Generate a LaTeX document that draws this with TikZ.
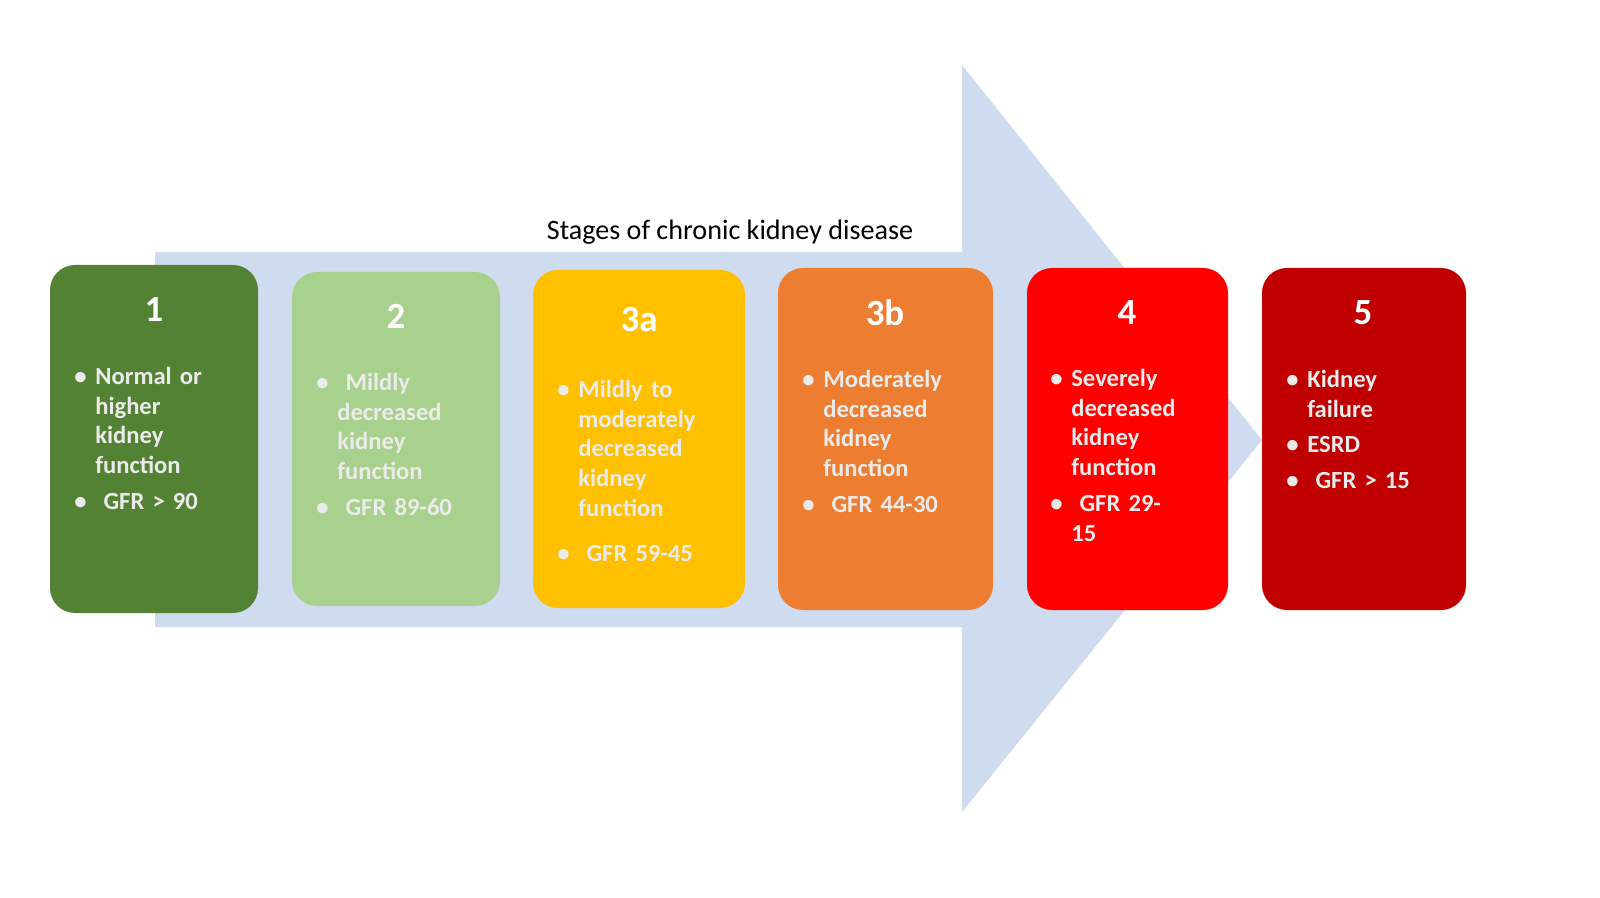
\documentclass[tikz,border=0pt]{standalone}
\usepackage{fontspec}
\setmainfont{Carlito}
\usepackage{enumitem}
\usetikzlibrary{positioning}
\definecolor{arrowblue}{RGB}{207,219,238}
\definecolor{stageA}{RGB}{84,130,53}
\definecolor{stageB}{RGB}{169,209,142}
\definecolor{stageC}{RGB}{255,192,0}
\definecolor{stageD}{RGB}{237,125,49}
\definecolor{stageE}{RGB}{255,0,0}
\definecolor{stageF}{RGB}{192,0,0}
\tikzset{
  stage/.style={draw=none, rounded corners=0.5cm, inner sep=0pt},
  num/.style={text=white, font=\fontsize{21}{24}\selectfont\bfseries},
  items/.style={text=white!92!black, text width=2.9cm, align=left, inner sep=0pt,
    font=\fontsize{14}{17}\selectfont\bfseries}
}
\setlist[itemize]{leftmargin=0.5cm, label=\textbullet, itemsep=0.12cm, topsep=0pt, parsep=0pt}
\begin{document}
\begin{tikzpicture}[x=0.02cm, y=-0.02cm]
    \useasboundingbox (0,0) rectangle (1600,898);
    % arrow
    \fill[arrowblue] (155,252) -- (962,252) -- (962,65) -- (1262,440) -- (962,812) -- (962,627) -- (155,627) -- cycle;
    \node (title) at (730,232) {\fontsize{16}{18}\selectfont Stages of chronic kidney disease};
    % boxes
    \fill[stage, stageA] (50,265) rectangle (258,613);
    \fill[stage, stageB] (292,272) rectangle (500,606);
    \fill[stage, stageC] (533,270) rectangle (745,608);
    \fill[stage, stageD] (778,268) rectangle (993,610);
    \fill[stage, stageE] (1027,268) rectangle (1228,610);
    \fill[stage, stageF] (1262,268) rectangle (1466,610);
    % numbers
    \node[num] (n1) at (154,310) {1};
    \node[num] (n2) at (396,316) {2};
    \node[num] (n3) at (639,320) {3a};
    \node[num] (n4) at (885,313) {3b};
    \node[num] (n5) at (1127,313) {4};
    \node[num] (n6) at (1363,313) {5};
    % bullet lists
    \node[items, anchor=north west] (t1) at (70,354) {\begin{itemize}\item Normal or higher kidney function \item \ GFR > 90\end{itemize}};
    \node[items, anchor=north west] (t2) at (312,360) {\begin{itemize}\item \ Mildly decreased kidney function \item \ GFR 89-60\end{itemize}};
    \node[items, anchor=north west, text width=3.3cm] (t3) at (553,367) {\begin{itemize}[itemsep=0.3cm]\item Mildly to moderately decreased kidney function \item \ GFR 59-45\end{itemize}};
    \node[items, anchor=north west, text width=3.4cm] (t4) at (798,357) {\begin{itemize}\item Moderately decreased kidney function \item \ GFR 44-30\end{itemize}};
    \node[items, anchor=north west, text width=3.0cm] (t5) at (1046,356) {\begin{itemize}\item Severely decreased kidney function \item \ GFR 29-\\15\end{itemize}};
    \node[items, anchor=north west, text width=2.7cm] (t6) at (1282,357) {\begin{itemize}\item Kidney\\failure \item ESRD \item \ GFR > 15\end{itemize}};
\end{tikzpicture}
\end{document}
